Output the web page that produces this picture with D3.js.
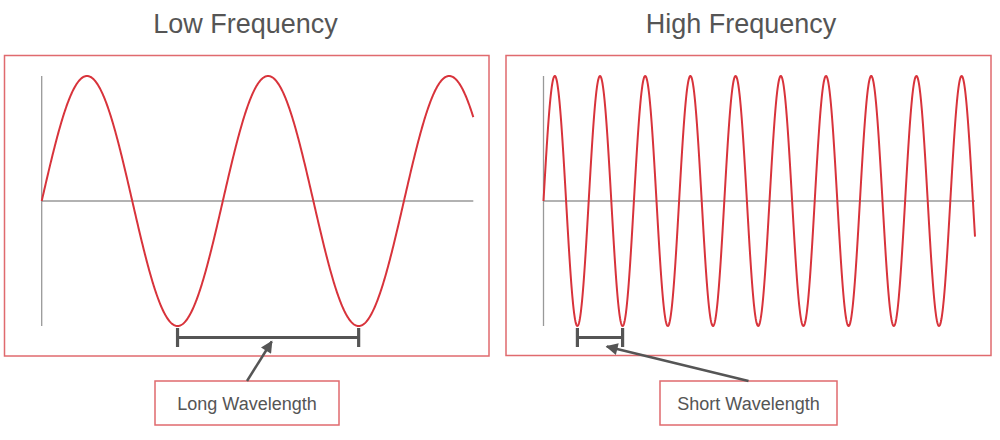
<!DOCTYPE html>
<html>
<head>
<meta charset="utf-8">
<script src="https://cdn.jsdelivr.net/npm/d3@7"></script>
<style>
  html, body { margin: 0; padding: 0; background: #fff; }
  svg { display: block; font-family: "Liberation Sans", Arial, sans-serif; }
</style>
</head>
<body>
<svg id="chart" width="1000" height="440"></svg>
<script>
// ---- data ----
const panelTitles = ["Low Frequency", "High Frequency"];
const cyclesShown = [2.383, 9.546];          // number of wave cycles visible in each panel
const wavelengthLabels = ["Long Wavelength", "Short Wavelength"];
const markedCycle = [0.75, 1.75];            // trough-to-trough interval marked by the bracket (in cycles)
const amplitudeDomain = [-1, 1];

// ---- layout ----
const panels = [
  { box: [4.5, 55.5, 484.5, 300.5], plotX: [41.7, 473.3], titleX: 245.5, labelBox: [155, 381, 184, 44], arrowFrac: 0.52, arrowDy: 4 },
  { box: [506, 55.5, 485, 300], plotX: [543.5, 975], titleX: 741, labelBox: [660, 381, 177, 44], arrowFrac: 0.65, arrowDy: 9 }
];
const plotY = [76, 326];

const svg = d3.select("#chart");
const defs = svg.append("defs");
defs.append("marker")
  .attr("id", "arrowhead")
  .attr("viewBox", "0 0 10 10")
  .attr("refX", 9).attr("refY", 5)
  .attr("markerWidth", 5.2).attr("markerHeight", 4.8)
  .attr("markerUnits", "strokeWidth")
  .attr("orient", "auto")
  .append("path")
  .attr("d", "M0,0 L10,5 L0,10 Z")
  .attr("fill", "#555");

panels.forEach((p, i) => {
  const g = svg.append("g");
  const x = d3.scaleLinear().domain([0, cyclesShown[i]]).range(p.plotX);
  const y = d3.scaleLinear().domain(amplitudeDomain).range([plotY[1], plotY[0]]);

  // title
  g.append("text")
    .attr("x", p.titleX).attr("y", 33)
    .attr("text-anchor", "middle")
    .attr("font-size", 27)
    .attr("fill", "#555")
    .text(panelTitles[i]);

  // panel frame
  g.append("rect")
    .attr("x", p.box[0]).attr("y", p.box[1])
    .attr("width", p.box[2]).attr("height", p.box[3])
    .attr("fill", "none")
    .attr("stroke", "#e06a6e")
    .attr("stroke-width", 1.5);

  // axes
  g.append("line")
    .attr("x1", x(0)).attr("x2", x(0))
    .attr("y1", y(1)).attr("y2", y(-1))
    .attr("stroke", "#999").attr("stroke-width", 1.3);
  g.append("line")
    .attr("x1", x(0)).attr("x2", x(cyclesShown[i]))
    .attr("y1", y(0)).attr("y2", y(0))
    .attr("stroke", "#999").attr("stroke-width", 1.3);

  // sine wave
  const samples = d3.range(0, cyclesShown[i], cyclesShown[i] / 1200).concat([cyclesShown[i]]);
  const line = d3.line()
    .x(t => x(t))
    .y(t => y(Math.sin(2 * Math.PI * t)));
  g.append("path")
    .datum(samples)
    .attr("d", line)
    .attr("fill", "none")
    .attr("stroke", "#d8333b")
    .attr("stroke-width", 2);

  // wavelength bracket
  const bx0 = x(markedCycle[0]), bx1 = x(markedCycle[1]);
  const by = 337.5;
  const bracket = g.append("g").attr("stroke", "#555").attr("stroke-width", 3.2);
  bracket.append("line").attr("x1", bx0).attr("x2", bx1).attr("y1", by).attr("y2", by);
  bracket.append("line").attr("x1", bx0).attr("x2", bx0).attr("y1", by - 9.5).attr("y2", by + 9.5);
  bracket.append("line").attr("x1", bx1).attr("x2", bx1).attr("y1", by - 9.5).attr("y2", by + 9.5);

  // label box
  const lb = p.labelBox;
  g.append("rect")
    .attr("x", lb[0]).attr("y", lb[1])
    .attr("width", lb[2]).attr("height", lb[3])
    .attr("fill", "#fff")
    .attr("stroke", "#e06a6e")
    .attr("stroke-width", 1.5);
  g.append("text")
    .attr("x", lb[0] + lb[2] / 2).attr("y", lb[1] + 28.5)
    .attr("text-anchor", "middle")
    .attr("font-size", 18)
    .attr("fill", "#555")
    .text(wavelengthLabels[i]);

  // arrow from label to bracket
  const tipX = bx0 + (bx1 - bx0) * p.arrowFrac;
  const tipY = by + p.arrowDy;
  g.append("line")
    .attr("x1", lb[0] + lb[2] / 2).attr("y1", lb[1])
    .attr("x2", tipX).attr("y2", tipY)
    .attr("stroke", "#555")
    .attr("stroke-width", 2.5)
    .attr("marker-end", "url(#arrowhead)");
});
</script>
</body>
</html>
